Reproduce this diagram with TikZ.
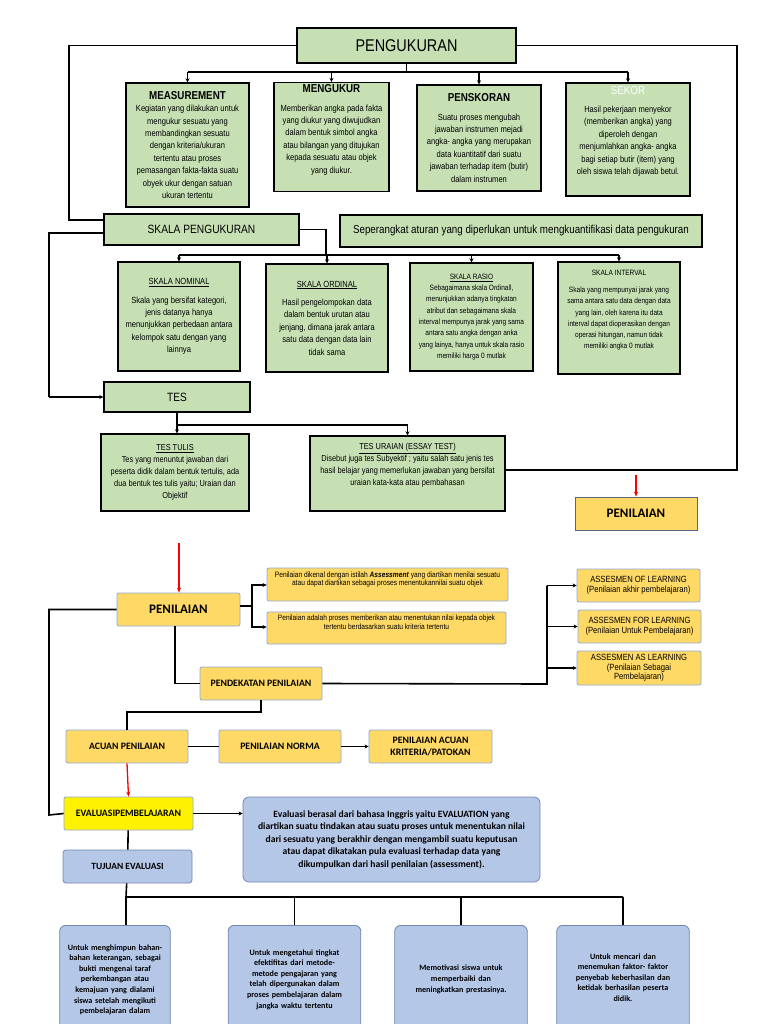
\documentclass[tikz,border=0pt]{standalone}
\usepackage{fontspec}
\setmainfont{Liberation Sans}
\newfontfamily\narrowf{Liberation Sans}[FakeStretch=0.85]
\newfontfamily\calf{Carlito}
\usetikzlibrary{positioning,arrows.meta}
\definecolor{boxgreen}{HTML}{C6E0B4}
\definecolor{boxorange}{HTML}{FFD966}
\definecolor{boxblue}{HTML}{B4C7E7}
\definecolor{boxedge}{HTML}{8FAADC}
\begin{document}
\begin{tikzpicture}[x=1pt,y=-1pt,
    greenbox/.style={
        draw, line width=1.4pt, fill=boxgreen, align=center,
        font=\narrowf\fontsize{8.9}{12.4}\selectfont, inner sep=2pt
        },
    hd/.style={font=\narrowf\fontsize{12}{13}\selectfont},
    orangebox/.style={
        draw=boxedge, line width=0.8pt, fill=boxorange, rounded corners=2pt,
        align=center, font=\calf\bfseries\fontsize{9.8}{12}\selectfont
        },
    smallorange/.style={
        orangebox, font=\narrowf\fontsize{7.8}{8.4}\selectfont
        },
    learnbox/.style={
        orangebox, font=\narrowf\fontsize{9}{9.5}\selectfont
        },
    bluebox/.style={
        draw=boxedge!80!black, line width=0.8pt, fill=boxblue, rounded corners=6pt,
        align=center, font=\calf\bfseries\fontsize{8.1}{10.6}\selectfont
        },
    link/.style={line width=1.6pt},
    arr/.style={link, -{Stealth[length=4pt,width=4pt]}},
    redarr/.style={red, line width=1.3pt, -{Stealth[length=5pt,width=4pt]}}
]
\useasboundingbox[fill=white] (0,0) rectangle (768,1024);

% ---------------- PENGUKURAN ----------------
\node[greenbox, minimum width=219pt, minimum height=35pt,
    font=\narrowf\fontsize{17}{19}\selectfont] (peng) at (406.5,45.5) {PENGUKURAN};

\node[greenbox, minimum width=123pt, minimum height=124pt] (meas) at (187.5,145)
    {{\bfseries\fontsize{11.5}{12}\selectfont MEASUREMENT}\\Kegiatan yang dilakukan untuk\\mengukur sesuatu yang\\membandingkan sesuatu\\dengan kriteria/ukuran\\tertentu atau proses\\pemasangan fakta-fakta suatu\\obyek ukur dengan satuan\\ukuran tertentu};
\node[greenbox, minimum width=115pt, minimum height=108pt] (meng) at (331.5,137)
    {{\bfseries\fontsize{11.5}{12}\selectfont MENGUKUR}\\[6pt]Memberikan angka pada fakta\\yang diukur yang diwujudkan\\dalam bentuk simbol angka\\atau bilangan yang ditujukan\\kepada sesuatu atau objek\\yang diukur.\\[4pt]};
\node[greenbox, minimum width=124pt, minimum height=106pt] (pens) at (479,138)
    {{\bfseries\fontsize{11.5}{12}\selectfont PENSKORAN}\\[6pt]Suatu proses mengubah\\jawaban instrumen mejadi\\angka- angka yang merupakan\\data kuantitatif dari suatu\\jawaban terhadap item (butir)\\dalam instrumen};
\node[greenbox, minimum width=124pt, minimum height=113pt] (sekor) at (628,139.5)
    {{\color{white}\fontsize{11.5}{12}\selectfont SEKOR}\\[6pt]Hasil pekerjaan menyekor\\(memberikan angka) yang\\diperoleh dengan\\menjumlahkan angka- angka\\bagi setiap butir (item) yang\\oleh siswa telah dijawab betul.\\[6pt]};

\coordinate (bus1) at (406.5,72);
\draw[link] (peng) -- (bus1);
\draw[link] (meas.north |- bus1) -- (sekor.north |- bus1);
\foreach \b in {meas,meng,pens,sekor}
    \draw[arr] (\b.north |- bus1) -- (\b.north);

% ---------------- SKALA ----------------
\node[greenbox, hd, minimum width=195pt, minimum height=31pt] (skala) at (201.5,229.5) {SKALA PENGUKURAN};
\node[greenbox, minimum width=362pt, minimum height=32pt,
    font=\narrowf\fontsize{11.5}{12}\selectfont] (seper) at (521,231)
    {Seperangkat aturan yang diperlukan untuk mengkuantifikasi data pengukuran};

\node[greenbox, minimum width=122pt, minimum height=109pt] (nom) at (179,316.5)
    {\underline{SKALA NOMINAL}\\[6pt]Skala yang bersifat kategori,\\jenis datanya hanya\\menunjukkan perbedaan antara\\kelompok satu dengan yang\\lainnya};
\node[greenbox, minimum width=122pt, minimum height=108pt] (ord) at (327,318)
    {\underline{SKALA ORDINAL}\\[6pt]Hasil pengelompokan data\\dalam bentuk urutan atau\\jenjang, dimana jarak antara\\satu data dengan data lain\\tidak sama};
\node[greenbox, minimum width=123pt, minimum height=108pt,
    font=\narrowf\fontsize{7.7}{11.3}\selectfont] (ras) at (471.5,317)
    {\underline{SKALA RASIO}\\Sebagaimana skala Ordinall,\\menunjukkan adanya tingkatan\\atribut dan sebagaimana skala\\interval mempunya jarak yang sama\\antara satu angka dengan anka\\yang lainya, hanya untuk skala rasio\\memiliki harga 0 mutlak};
\node[greenbox, minimum width=122pt, minimum height=112pt,
    font=\narrowf\fontsize{7.7}{11.3}\selectfont] (int) at (619,318)
    {SKALA INTERVAL\\[6pt]Skala yang mempunyai jarak yang\\sama antara satu data dengan data\\yang lain, oleh karena itu data\\interval dapat dioperasikan dengan\\operasi hitungan, namun tidak\\memiliki angka 0 mutlak\\[6pt]};

\coordinate (bus2) at (326,255);
\draw[link] (skala.east) -| (bus2);
\draw[link] (nom.north |- bus2) -- (int.north |- bus2);
\foreach \b in {nom,ord,ras,int}
    \draw[arr] (\b.north |- bus2) -- (\b.north);

% ---------------- TES ----------------
\node[greenbox, hd, minimum width=146pt, minimum height=30pt] (tes) at (177,397) {TES};
\node[greenbox, minimum width=148pt, minimum height=77pt,
    font=\narrowf\fontsize{8.7}{12}\selectfont] (tulis) at (175,472.5)
    {\underline{TES TULIS}\\Tes yang menuntut jawaban dari\\peserta didik dalam bentuk tertulis, ada\\dua bentuk tes tulis yaitu; Uraian dan\\Objektif};
\node[greenbox, minimum width=195pt, minimum height=75pt,
    font=\narrowf\fontsize{8.7}{12}\selectfont] (uraian) at (407.5,473.5)
    {\underline{TES URAIAN (ESSAY TEST)}\\Disebut juga tes Subyektif ; yaitu salah satu jenis tes\\hasil belajar yang memerlukan jawaban yang bersifat\\uraian kata-kata atau pembahasan\\[6pt]};

\coordinate (bus3) at (177,425);
\draw[link] (tes) -- (bus3);
\draw[link] (bus3) -- (uraian.north |- bus3);
\draw[arr] (bus3) -- (tulis.north -| bus3);
\draw[arr] (uraian.north |- bus3) -- (uraian.north);

% side lines
\coordinate (lt) at (69,220);
\coordinate (ll) at (49,397);
\coordinate (rt) at (737,470);
\draw[link] (peng.west) -| (lt) -- (lt -| skala.west);
\draw[link] (skala.west |- 0,233) -| (ll);
\draw[arr] (ll) -- (tes.west);
\draw[link] (peng.east) -| (rt) -- (rt -| uraian.east);

\node[orangebox, draw=boxedge!60!black, minimum width=122pt, minimum height=33pt,
    rounded corners=0pt, font=\calf\bfseries\fontsize{13}{14}\selectfont] (pen1) at (636,513.5) {PENILAIAN};
\draw[redarr] (pen1.north |- rt) ++(0,5) coordinate (r1) -- (pen1.north);

% ---------------- PENILAIAN ----------------
\node[orangebox, minimum width=123pt, minimum height=33pt,
    font=\calf\bfseries\fontsize{13}{14}\selectfont] (pen2) at (178.5,609.5) {PENILAIAN};
\coordinate (r2) at (179,543);
\draw[redarr] (r2) -- (pen2.north -| r2);

\node[smallorange, minimum width=241pt, minimum height=33pt] (def1) at (387.5,584.5)
    {Penilaian dikenal dengan istilah \textbf{\itshape Assessment} yang diartikan menilai sesuatu\\atau dapat diartikan sebagai proses menentukannilai suatu objek\\[3pt]};
\node[smallorange, minimum width=239pt, minimum height=32pt] (def2) at (386.5,628)
    {Penilaian adalah proses memberikan atau menentukan nilai kepada objek\\tertentu berdasarkan suatu kriteria tertentu\\[3pt]};
\coordinate (fork) at (252,606);
\draw[link] (pen2.east |- fork) -- (fork);
\draw[arr] (fork) |- (def1.west |- 0,585);
\draw[arr] (fork) |- (def2.west |- 0,627);

\node[orangebox, minimum width=122pt, minimum height=33pt] (pend) at (261,683.5) {PENDEKATAN PENILAIAN};
\draw[link] (pen2.south -| 175,0) |- (pend.west);

\node[learnbox, minimum width=123pt, minimum height=33pt] (of) at (638.5,585.5)
    {ASSESMEN OF LEARNING\\(Penilaian akhir pembelajaran)};
\node[learnbox, minimum width=123pt, minimum height=33pt] (for) at (639.5,626.5)
    {ASSESMEN FOR LEARNING\\(Penilaian Untuk Pembelajaran)};
\node[learnbox, minimum width=124pt, minimum height=34pt] (as) at (639,668)
    {ASSESMEN AS LEARNING\\(Penilaian Sebagai\\Pembelajaran)};
\coordinate (bus4) at (547,684);
\draw[link] (pend.east) -- (bus4) -- (bus4 |- of.west);
\foreach \b in {of,for,as}
    \draw[arr] (bus4 |- \b.west) -- (\b.west);

\node[orangebox, minimum width=122pt, minimum height=33pt] (acuan) at (127,746.5) {ACUAN PENILAIAN};
\node[orangebox, minimum width=122pt, minimum height=33pt] (norma) at (280,746.5) {PENILAIAN NORMA};
\node[orangebox, minimum width=123pt, minimum height=33pt] (krit) at (430.5,746.5) {PENILAIAN ACUAN\\KRITERIA/PATOKAN};
\coordinate (kn) at (261,712);
\draw[link] (pend.south) -- (kn) -| (acuan.north);
\draw[link] (acuan) -- (norma);
\draw[arr] (norma) -- (krit);

% ---------------- EVALUASI ----------------
\node[orangebox, fill=yellow, minimum width=129pt, minimum height=33pt,
    font=\calf\bfseries\fontsize{9.8}{11}\selectfont] (eval) at (128.5,813.5) {EVALUASIPEMBELAJARAN};
\draw[redarr] (acuan.south) -- (eval.north);
\coordinate (lb) at (49,815);
\draw[link] (pen2.west) -| (lb) -- (eval.west);

\node[bluebox, minimum width=297pt, minimum height=85pt,
    font=\calf\bfseries\fontsize{9.6}{12.5}\selectfont] (def3) at (391.5,839.5)
    {Evaluasi berasal dari bahasa Inggris yaitu EVALUATION yang\\diartikan suatu tindakan atau suatu proses untuk menentukan nilai\\dari sesuatu yang berakhir dengan mengambil suatu keputusan\\atau dapat dikatakan pula evaluasi terhadap data yang\\dikumpulkan dari hasil penilaian (assessment).};
\draw[arr] (eval) -- (def3.west |- eval);

\node[bluebox, rounded corners=3pt, minimum width=129pt, minimum height=33pt,
    font=\calf\bfseries\fontsize{9.5}{11}\selectfont] (tuj) at (127.5,866.5) {TUJUAN EVALUASI};
\draw[link] (eval) -- (tuj);

\node[bluebox, text width=104pt, minimum height=118pt, anchor=north] (t1) at (115,925)
    {Untuk menghimpun bahan-\\bahan keterangan, sebagai\\bukti mengenai taraf\\perkembangan atau\\kemajuan yang dialami\\siswa setelah mengikuti\\pembelajaran dalam\\\phantom{x}};
\node[bluebox, text width=126pt, minimum height=108pt, anchor=north] (t2) at (294.5,925)
    {Untuk mengetahui tingkat\\efektifitas dari metode-\\metode pengajaran yang\\telah dipergunakan dalam\\proses pembelajaran dalam\\jangka waktu tertentu};
\node[bluebox, text width=126pt, minimum height=108pt, anchor=north] (t3) at (461,925)
    {Memotivasi siswa untuk\\memperbaiki dan\\meningkatkan prestasinya.\\[4pt]};
\node[bluebox, text width=126pt, minimum height=104pt, anchor=north] (t4) at (623,925)
    {Untuk mencari dan\\menemukan faktor- faktor\\penyebab keberhasilan dan\\ketidak berhasilan peserta\\didik.};
\coordinate (bus5) at (126,897);
\draw[link] (tuj) -- (bus5) -- (bus5 -| t4.north);
\draw[link] (bus5) -- (bus5 |- t1.north);
\foreach \b in {t2,t3,t4}
    \draw[link] (bus5 -| \b.north) -- (\b.north);
\end{tikzpicture}
\end{document}
